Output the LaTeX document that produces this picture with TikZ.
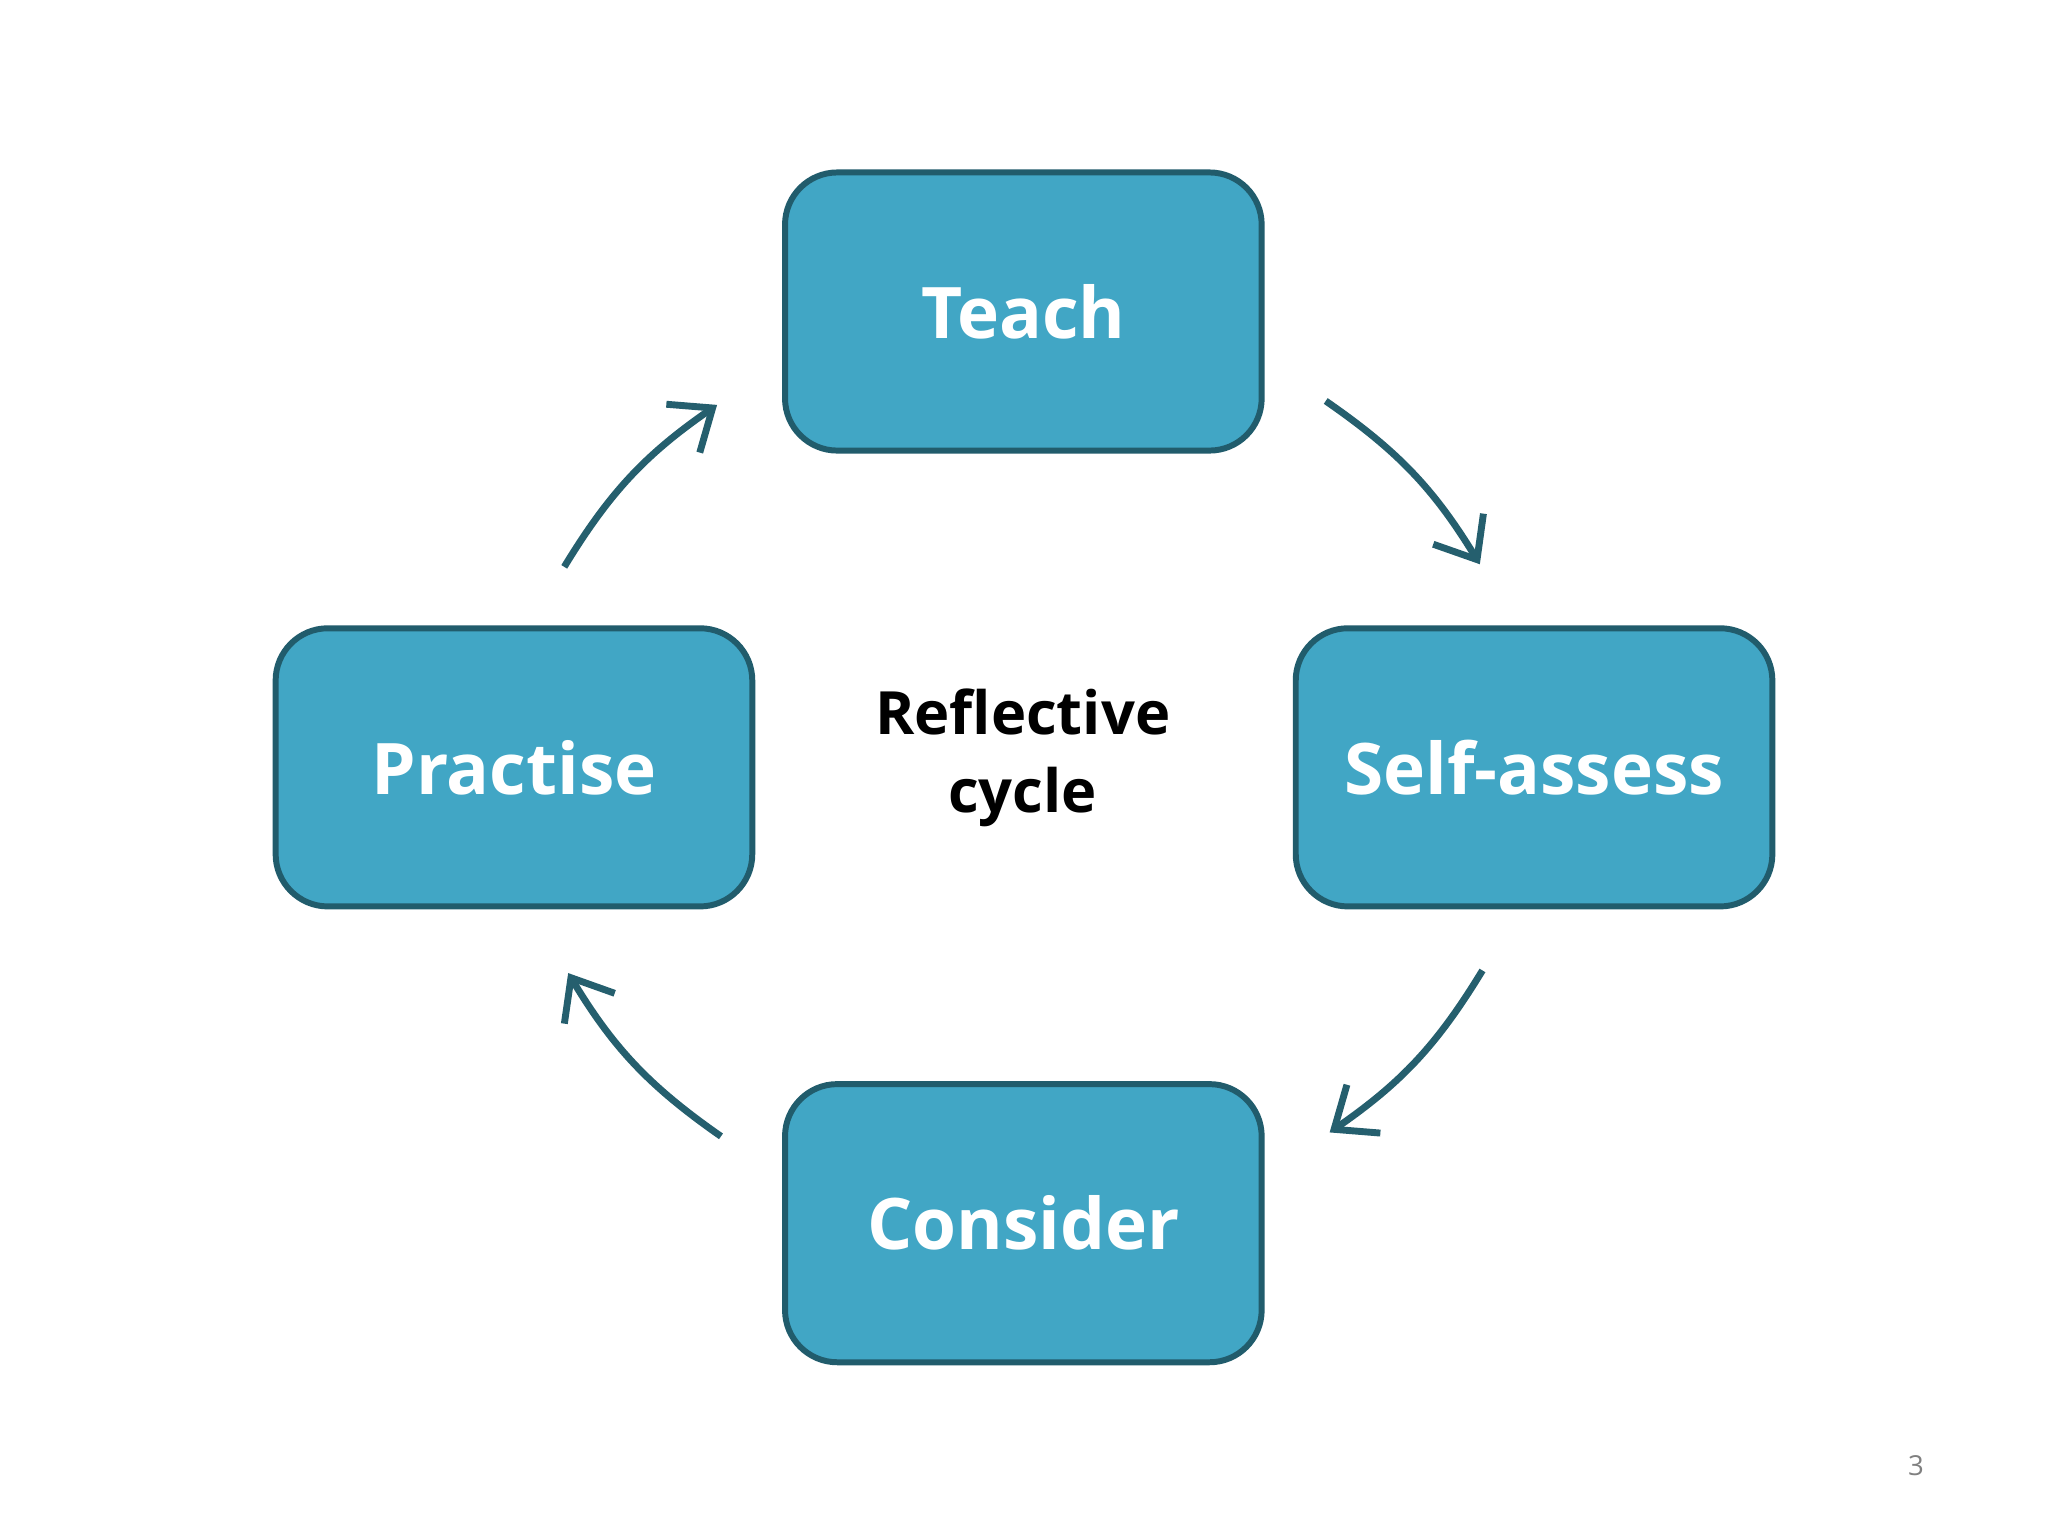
\documentclass[tikz,border=0pt]{standalone}
\usepackage{fontspec}
\setmainfont{Open Sans}
\usetikzlibrary{arrows.meta}
\definecolor{boxfill}{HTML}{41A6C5}
\definecolor{boxline}{HTML}{215C6C}
\definecolor{arr}{HTML}{255F6E}
\tikzset{
 stepbox/.style={draw=boxline,fill=boxfill,line width=2.6pt,rounded corners=0.8cm,minimum width=7.3cm,minimum height=4.26cm,text=white,font=\bfseries\fontsize{31}{36}\selectfont},
 cyc/.style={draw=arr,line width=3pt,-{Straight Barb[length=0.55cm,width=0.9cm,line width=3pt]}}
}
\begin{document}
\begin{tikzpicture}[x=0.02cm,y=-0.02cm]
\useasboundingbox[fill=white] (0,0) rectangle (1568,1176);
\node[stepbox] (teach) at (783.5,238.5) {Teach};
\node[stepbox] (self) at (1174.5,587.5) {Self-assess};
\node[stepbox] (prac) at (393.5,587.5) {Practise};
\node[stepbox] (cons) at (783.5,936.5) {Consider};
\node[align=center,font=\bfseries\fontsize{26}{34}\selectfont] (center) at (783,580) {Reflective\\cycle};
\node[text=gray,font=\fontsize{12}{14}\selectfont] (pg) at (1467,1122) {3};
\coordinate (a1) at (1015,307); \coordinate (b1) at (1133,432);
\coordinate (a2) at (1135,743); \coordinate (b2) at (1018,867);
\coordinate (a3) at (552,870);  \coordinate (b3) at (435,745);
\coordinate (a4) at (432,434);  \coordinate (b4) at (549,310);
\draw[cyc] (a1) to[bend left=12] (b1);
\draw[cyc] (a2) to[bend left=12] (b2);
\draw[cyc] (a3) to[bend left=12] (b3);
\draw[cyc] (a4) to[bend left=12] (b4);
\end{tikzpicture}
\end{document}
